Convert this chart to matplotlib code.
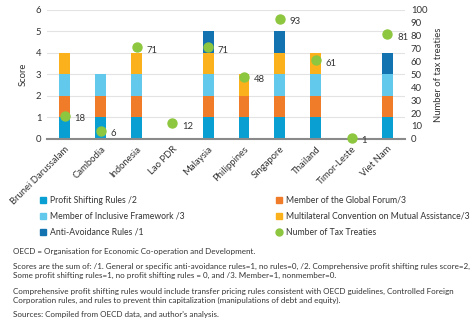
import numpy as np
import matplotlib.pyplot as plt
from matplotlib.lines import Line2D
from matplotlib.patches import Patch

plt.rcParams['font.family'] = ['Lato', 'DejaVu Sans']

countries = ['Brunei Darussalam', 'Cambodia', 'Indonesia', 'Lao PDR', 'Malaysia',
             'Philippines', 'Singapore', 'Thailand', 'Timor-Leste', 'Viet Nam']
profit_shifting = [1, 1, 1, 0, 1, 1, 1, 1, 0, 1]
global_forum = [1, 1, 1, 0, 1, 1, 1, 1, 0, 1]
inclusive_framework = [1, 1, 1, 0, 1, 0, 1, 1, 0, 1]
multilateral = [1, 0, 1, 0, 1, 1, 1, 1, 0, 0]
anti_avoidance = [0, 0, 0, 0, 1, 0, 1, 0, 0, 1]
tax_treaties = [18, 6, 71, 12, 71, 48, 93, 61, 1, 81]

series = [
    ('Profit Shifting Rules /2', profit_shifting, '#0a9fd2'),
    ('Member of the Global Forum/3', global_forum, '#f07c2a'),
    ('Member of Inclusive Framework /3', inclusive_framework, '#62c9ec'),
    ('Multilateral Convention on Mutual Assistance/3', multilateral, '#fbb11b'),
    ('Anti-Avoidance Rules /1', anti_avoidance, '#1273b0'),
]
green = '#8dc63f'
text_col = '#333333'

fig = plt.figure(figsize=(4.74, 3.33), dpi=100)
ax = fig.add_axes([0.099, 0.583, 0.756, 0.387])

x = np.arange(len(countries))
bottom = np.zeros(len(countries))
for name, vals, col in series:
    ax.bar(x, vals, 0.3, bottom=bottom, color=col, zorder=2)
    bottom += np.array(vals)

ax.set_xlim(-0.5, len(countries) - 0.5)
ax.set_ylim(0, 6)
ax.set_yticks(range(7))
ax.grid(axis='y', color='#e3e3e3', linewidth=0.8, zorder=0)
for s in ['top', 'left', 'right']:
    ax.spines[s].set_visible(False)
ax.spines['bottom'].set_color('#8a8a8a')
ax.spines['bottom'].set_linewidth(1.5)
ax.spines['bottom'].set_zorder(3)
ax.tick_params(length=0, labelsize=6.8, colors=text_col, pad=4)
ax.set_xticks(x)
ax.set_xticklabels(countries, rotation=45, ha='right', rotation_mode='anchor')
ax.set_ylabel('Score', fontsize=6.8, color=text_col, labelpad=6)

ax2 = ax.twinx()
ax2.set_ylim(0, 100)
ax2.set_yticks(range(0, 101, 10))
for s in ['top', 'left', 'right', 'bottom']:
    ax2.spines[s].set_visible(False)
ax2.tick_params(length=0, labelsize=6.8, colors=text_col, pad=4)
ax2.set_ylabel('Number of tax treaties', fontsize=6.8, color=text_col, labelpad=5)
ax2.scatter(x, tax_treaties, s=42, color=green, zorder=4, clip_on=False)
for xi, v in zip(x, tax_treaties):
    ax2.annotate(str(v), (xi, v), xytext=(7, -2), textcoords='offset points',
                 fontsize=6.8, color=text_col, va='center', ha='left')

# legend: two separate columns under the chart
handles = [Patch(color=c) for _, _, c in series]
labels = [n for n, _, _ in series]
handles.append(Line2D([], [], marker='o', linestyle='', color=green, markersize=5))
labels.append('Number of Tax Treaties')
leg_kw = dict(loc='upper left', frameon=False, fontsize=6.2, handlelength=0.7,
              handleheight=0.7, handletextpad=0.4, labelspacing=0.8,
              labelcolor=text_col, borderaxespad=0)
fig.legend([handles[i] for i in (0, 2, 4)], [labels[i] for i in (0, 2, 4)],
           bbox_to_anchor=(0.078, 0.422), **leg_kw)
fig.legend([handles[i] for i in (1, 3, 5)], [labels[i] for i in (1, 3, 5)],
           bbox_to_anchor=(0.576, 0.422), **leg_kw)

notes = [
    (0.255, 'OECD = Organisation for Economic Co-operation and Development.'),
    (0.210, 'Scores are the sum of: /1. General or specific anti-avoidance rules=1, no rules=0, /2. Comprehensive profit shifting rules score=2,\n'
            'Some profit shifting rules=1, no profit shifting rules = 0, and /3. Member=1, nonmember=0.'),
    (0.135, 'Comprehensive profit shifting rules would include transfer pricing rules consistent with OECD guidelines, Controlled Foreign\n'
            'Corporation rules, and rules to prevent thin capitalization (manipulations of debt and equity).'),
    (0.066, 'Sources: Compiled from OECD data, and author\'s analysis.'),
]
for y, t in notes:
    fig.text(0.027, y, t, fontsize=5.75, color=text_col, va='top', linespacing=1.25)

fig.savefig('out.png', dpi=100)
